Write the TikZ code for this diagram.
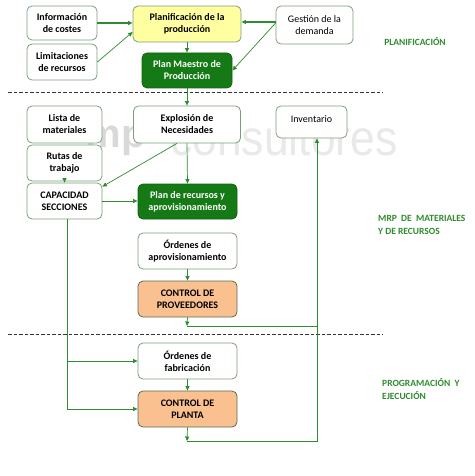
\documentclass[tikz,border=0pt]{standalone}
\usepackage{fontspec}
\setmainfont{Carlito}
\newfontfamily\wmfont{Liberation Sans}
\usetikzlibrary{arrows.meta,calc}
\definecolor{MPLine}{HTML}{7A9E7A}
\definecolor{MPGreen}{HTML}{2E8B2E}
\definecolor{MPDark}{HTML}{157A15}
\definecolor{MPYellow}{HTML}{FFFFA2}
\definecolor{MPOrange}{HTML}{FAC08F}
\definecolor{MPDash}{HTML}{333333}

\begin{document}
\begin{tikzpicture}[x=1pt,y=-1pt,
    box/.style={draw=MPLine,line width=0.8pt,fill=white,rounded corners=5pt,align=center,
        inner sep=0pt,font=\fontsize{10}{12}\selectfont\bfseries},
    plainbox/.style={box,font=\fontsize{10}{12}\selectfont},
    yellowbox/.style={box,fill=MPYellow},
    greenbox/.style={box,fill=MPDark,draw=MPDark!80!black,text=white},
    orangebox/.style={box,fill=MPOrange,draw=MPLine!70!black},
    flow/.style={draw=MPGreen,line width=0.7pt,-{Triangle[length=4.5pt,width=4pt]}},
    flowbold/.style={flow,line width=1.2pt},
    link/.style={draw=MPGreen,line width=0.7pt},
    lbl/.style={text=MPGreen,font=\fontsize{9.5}{12.5}\selectfont\bfseries,align=left,inner sep=0pt}]
    \useasboundingbox (0,0) rectangle (474,476);
    % watermark
    \node[text=gray!30,font=\wmfont\bfseries\fontsize{40}{40}\selectfont,inner sep=0pt,anchor=base east] (wmmp) at (146,147) {mp};
    \node[text=gray!17,font=\wmfont\fontsize{50}{50}\selectfont,xscale=0.89,inner sep=0pt,anchor=base east] (wmcons) at (398,155) {consultores};
    % planificacion
    \node[box,minimum width=70pt,minimum height=34pt] (costes) at (62,23) {Información\\de costes};
    \node[box,minimum width=70pt,minimum height=36pt] (limit) at (62,62) {Limitaciones\\de recursos};
    \node[yellowbox,minimum width=108pt,minimum height=36pt] (plan) at (187,24) {Planificación de la\\producción};
    \node[greenbox,minimum width=90pt,minimum height=35pt] (maestro) at (187,70.5) {Plan Maestro de\\Producción};
    \node[plainbox,minimum width=77pt,minimum height=38pt] (demanda) at (314.5,25) {Gestión de la\\demanda};
    % mrp
    \node[box,minimum width=75pt,minimum height=37pt] (lista) at (64.5,124.5) {Lista de\\materiales};
    \node[box,minimum width=75pt,minimum height=36pt] (rutas) at (64.5,163) {Rutas de\\trabajo};
    \node[box,minimum width=75pt,minimum height=36pt] (capac) at (64.5,201) {CAPACIDAD\\SECCIONES};
    \node[box,minimum width=107pt,minimum height=37pt] (explos) at (187,124.5) {Explosión de\\Necesidades};
    \node[plainbox,minimum width=71pt,minimum height=32pt,text height=14pt,text depth=14pt] (inv) at (311.5,122) {Inventario};
    \node[greenbox,minimum width=99pt,minimum height=35pt] (recursos) at (187.5,201.5) {Plan de recursos y\\aprovisionamiento};
    \node[box,minimum width=99pt,minimum height=36pt] (ordaprov) at (187.5,251) {Órdenes de\\aprovisionamiento};
    \node[orangebox,minimum width=99pt,minimum height=36pt] (ctrlprov) at (187.5,299) {CONTROL DE\\PROVEEDORES};
    % programacion
    \node[box,minimum width=99pt,minimum height=36pt] (ordfab) at (187.5,361) {Órdenes de\\fabricación};
    \node[orangebox,minimum width=99pt,minimum height=36pt] (ctrlplanta) at (187.5,409) {CONTROL DE\\PLANTA};
    \coordinate (provend) at (187,326);
    \coordinate (plantaend) at (187,441);
    \coordinate (invfoot) at ([xshift=5.5pt]inv.south);
    % section labels
    \node[lbl] (lplan) at (415,42) {PLANIFICACIÓN};
    \node[lbl,anchor=west] (lmrp) at (378,225) {MRP\ \ DE\ \ MATERIALES\\Y DE RECURSOS};
    \node[lbl,anchor=west] (lprog) at (382,389) {PROGRAMACIÓN\ \ Y\\EJECUCIÓN};
    % separators
    \foreach \y in {92,334}
        \draw[MPDash,line width=0.8pt,dash pattern=on 3.5pt off 2pt] (8,\y) -- (383,\y);
    % connectors
    \draw[flowbold] (costes.east) -- (costes.east -| plan.west);
    \draw[flow] (limit.east) -- ([yshift=-8pt]plan.west);
    \draw[flowbold] ([yshift=3pt]demanda.west) -- ([yshift=3pt]demanda.west -| plan.east);
    \draw[flow] ([yshift=2pt]demanda.west) -- (maestro.east);
    \foreach \a/\b in {plan/maestro,maestro/explos,explos/recursos,rutas/capac,ordaprov/ctrlprov,ordfab/ctrlplanta}
        \draw[flow] (\a.south) -- (\b.north);
    \draw[flow] ([xshift=-10pt]explos.south) -- ([yshift=-4pt]capac.north east);
    \draw[flow] (capac.east) -- (capac.east -| recursos.west);
    \draw[flow] ([xshift=2.5pt]capac.south) |- (ordfab.west);
    \draw[flow] ([xshift=2.5pt]capac.south) |- (ctrlplanta.west);
    \draw[flow] (ctrlprov.south) -- (provend);
    \draw[flow] (ctrlplanta.south) -- (plantaend);
    \draw[link] (provend) -- (provend -| invfoot);
    \draw[flow] (plantaend) -| (invfoot);
\end{tikzpicture}
\end{document}
